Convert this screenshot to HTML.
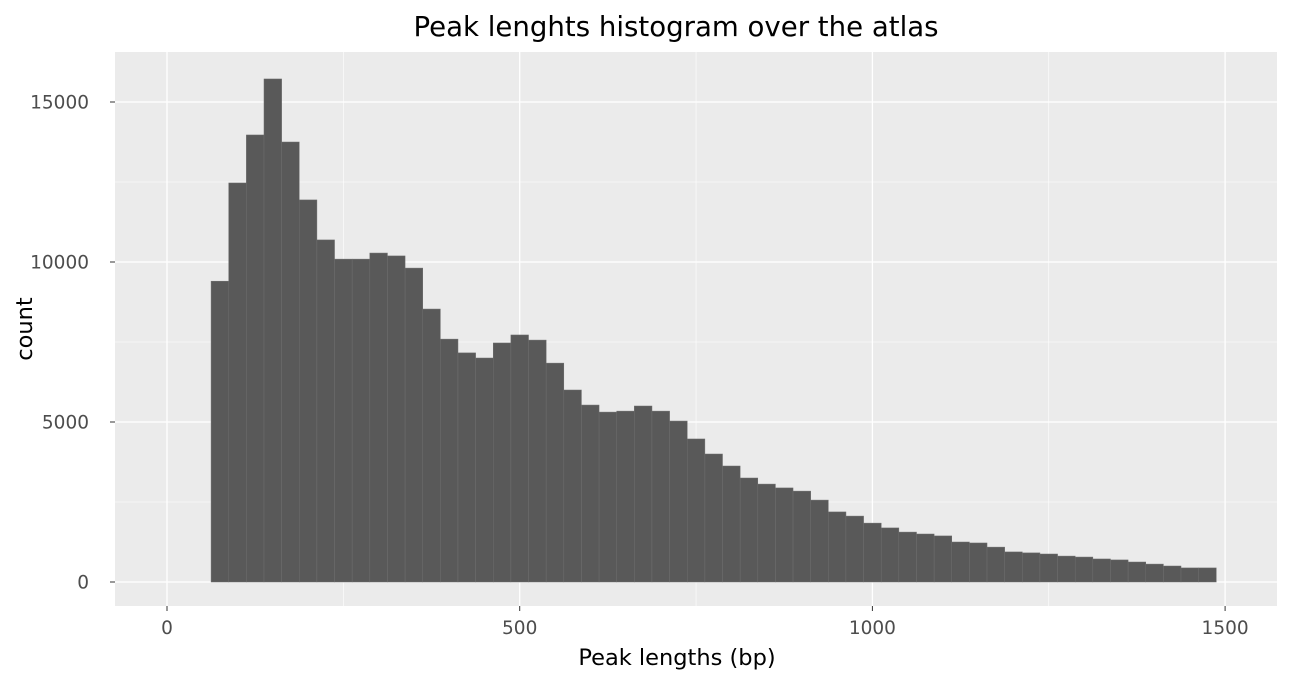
<!DOCTYPE html>
<html><head><meta charset="utf-8"><style>
body{margin:0;background:#fff;font-family:"Liberation Sans","DejaVu Sans",sans-serif;}
svg text{font-family:"DejaVu Sans","Liberation Sans",sans-serif;}
</style></head><body>
<svg id="chart" width="1297" height="683" xmlns="http://www.w3.org/2000/svg">
<rect x="0" y="0" width="1297" height="683" fill="#fff"/>
<text x="676" y="36" font-size="27.6" text-anchor="middle" fill="#000">Peak lenghts histogram over the atlas</text>
<rect x="115" y="52" width="1162" height="554" fill="#ebebeb"/>
<g id="grid"></g>
<g id="bars"></g>
<g id="axes"></g>
<text x="677" y="665" font-size="22.5" text-anchor="middle" fill="#000">Peak lengths (bp)</text>
<text transform="translate(32,329) rotate(-90)" font-size="22.5" text-anchor="middle" fill="#000">count</text>
</svg>
<script>
const binStart = 62.5;
const binWidth = 25;
const counts = [9400,12470,13970,15720,13750,11940,10690,10090,10090,10280,10190,9810,8530,7590,7160,7000,7470,7720,7560,6840,6000,5530,5310,5340,5500,5340,5030,4470,4000,3625,3250,3060,2940,2840,2560,2190,2060,1840,1690,1560,1500,1440,1250,1220,1090,940,910,875,810,780,720,690,625,560,500,440,440];
const xTicks = [0,500,1000,1500];
const yTicks = [0,5000,10000,15000];
const xMinor = [250,750,1250];
const yMinor = [2500,7500,12500];
const NS="http://www.w3.org/2000/svg";
function xs(v){return 167+v*(352.7/500);}
function ys(v){return 582-v*0.032;}
function mk(tag,attrs,parent){const e=document.createElementNS(NS,tag);for(const k in attrs)e.setAttribute(k,attrs[k]);parent.appendChild(e);return e;}
const grid=document.getElementById('grid'),bars=document.getElementById('bars'),axes=document.getElementById('axes');
xMinor.forEach(v=>{const l=mk('line',{x1:xs(v),x2:xs(v),y1:52,y2:606,stroke:'#fff','stroke-width':0.6},grid);

});
yMinor.forEach(v=>{const l=mk('line',{x1:115,x2:1277,y1:ys(v),y2:ys(v),stroke:'#fff','stroke-width':0.6},grid);

});
xTicks.forEach(v=>{const l=mk('line',{x1:xs(v),x2:xs(v),y1:52,y2:606,stroke:'#fff','stroke-width':1.3},grid);


mk('line',{x1:xs(v),x2:xs(v),y1:606,y2:611,stroke:'#333','stroke-width':1},axes);
const t=mk('text',{x:xs(v),y:634,'font-size':18.5,'text-anchor':'middle',fill:'#4d4d4d'},axes);t.textContent=v;

});
yTicks.forEach(v=>{const l=mk('line',{x1:115,x2:1277,y1:ys(v),y2:ys(v),stroke:'#fff','stroke-width':1.3},grid);


mk('line',{x1:110,x2:115,y1:ys(v),y2:ys(v),stroke:'#333','stroke-width':1},axes);
const t=mk('text',{x:89,y:ys(v)+6.5,'font-size':18.5,'text-anchor':'end',fill:'#4d4d4d'},axes);t.textContent=v;

});
counts.forEach((c,i)=>{const x0=xs(binStart+i*binWidth),x1=xs(binStart+(i+1)*binWidth);
const r=mk('rect',{x:x0,y:ys(c),width:x1-x0,height:ys(0)-ys(c),fill:'#595959',stroke:'#6e6e6e','stroke-width':0.5},bars);

});
</script>
</body></html>
